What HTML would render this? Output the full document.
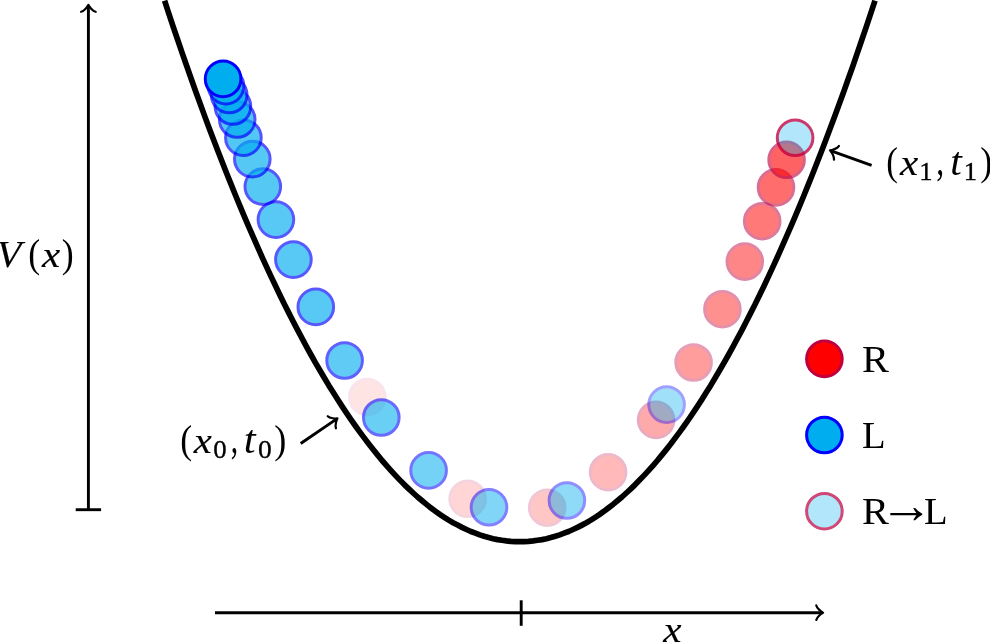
<!DOCTYPE html>
<html><head><meta charset="utf-8"><title>V(x)</title>
<style>
html,body{margin:0;padding:0;background:#fff;}
body{width:990px;height:642px;overflow:hidden;}
svg{display:block;}
text{font-family:"Liberation Serif",serif;fill:#000;}
.i{font-style:italic;}
</style></head><body>
<svg width="990" height="642" viewBox="0 0 990 642">
<rect width="990" height="642" fill="#fff"/>
<line x1="88.4" y1="509.7" x2="88.40" y2="5.30" stroke="#000" stroke-width="2.9"/><path transform="translate(88.4,3.8) rotate(-90.00)" d="M -7.95,7.28 C -7.49,4.55 -2.49,0.455 -1.12,0 C -2.49,-0.455 -7.49,-4.55 -7.95,-7.28" fill="none" stroke="#000" stroke-width="2.24" stroke-linecap="round" stroke-linejoin="round"/>
<line x1="75.7" y1="509.7" x2="101.10000000000001" y2="509.7" stroke="#000" stroke-width="2.9"/>
<line x1="215" y1="612.7" x2="822.70" y2="612.70" stroke="#000" stroke-width="2.9"/><path transform="translate(824.2,612.7) rotate(0.00)" d="M -7.95,7.28 C -7.49,4.55 -2.49,0.455 -1.12,0 C -2.49,-0.455 -7.49,-4.55 -7.95,-7.28" fill="none" stroke="#000" stroke-width="2.24" stroke-linecap="round" stroke-linejoin="round"/>
<line x1="521.2" y1="600.3" x2="521.2" y2="625.8" stroke="#000" stroke-width="2.9"/>
<g>
<g opacity="0.1"><circle cx="367.3" cy="397.0" r="17.8" fill="#ff0000" stroke="#bf0040" stroke-width="3.0"/></g>
<g opacity="0.16"><circle cx="467.6" cy="498.8" r="17.8" fill="#ff0000" stroke="#bf0040" stroke-width="3.0"/></g>
<g opacity="0.22"><circle cx="547.2" cy="507.7" r="17.8" fill="#ff0000" stroke="#bf0040" stroke-width="3.0"/></g>
<g opacity="0.27"><circle cx="608.1" cy="472.2" r="17.8" fill="#ff0000" stroke="#bf0040" stroke-width="3.0"/></g>
<g opacity="0.33"><circle cx="656.1" cy="419.9" r="17.8" fill="#ff0000" stroke="#bf0040" stroke-width="3.0"/></g>
<g opacity="0.38"><circle cx="693.6" cy="362.5" r="17.8" fill="#ff0000" stroke="#bf0040" stroke-width="3.0"/></g>
<g opacity="0.43"><circle cx="722.4" cy="309.2" r="17.8" fill="#ff0000" stroke="#bf0040" stroke-width="3.0"/></g>
<g opacity="0.47"><circle cx="744.8" cy="261.6" r="17.8" fill="#ff0000" stroke="#bf0040" stroke-width="3.0"/></g>
<g opacity="0.52"><circle cx="762.2" cy="221.2" r="17.8" fill="#ff0000" stroke="#bf0040" stroke-width="3.0"/></g>
<g opacity="0.57"><circle cx="776.0" cy="187.4" r="17.8" fill="#ff0000" stroke="#bf0040" stroke-width="3.0"/></g>
<g opacity="0.61"><circle cx="786.6" cy="159.8" r="17.8" fill="#ff0000" stroke="#bf0040" stroke-width="3.0"/></g>
<circle cx="795.1" cy="137.8" r="16.60" fill="#00adef" fill-opacity="0.3"/><circle cx="795.1" cy="137.8" r="17.8" fill="none" stroke="#bf0040" stroke-opacity="0.78" stroke-width="3.0"/>
<g opacity="0.37"><circle cx="666.6" cy="404.6" r="17.8" fill="#00adef" stroke="#0000ff" stroke-width="3.0"/></g>
<g opacity="0.44"><circle cx="566.9" cy="500.5" r="17.8" fill="#00adef" stroke="#0000ff" stroke-width="3.0"/></g>
<g opacity="0.49"><circle cx="489.0" cy="507.3" r="17.8" fill="#00adef" stroke="#0000ff" stroke-width="3.0"/></g>
<g opacity="0.54"><circle cx="428.6" cy="470.4" r="17.8" fill="#00adef" stroke="#0000ff" stroke-width="3.0"/></g>
<g opacity="0.58"><circle cx="381.3" cy="417.5" r="17.8" fill="#00adef" stroke="#0000ff" stroke-width="3.0"/></g>
<g opacity="0.62"><circle cx="344.6" cy="360.5" r="17.8" fill="#00adef" stroke="#0000ff" stroke-width="3.0"/></g>
<g opacity="0.65"><circle cx="315.8" cy="306.9" r="17.8" fill="#00adef" stroke="#0000ff" stroke-width="3.0"/></g>
<g opacity="0.65"><circle cx="293.4" cy="259.6" r="17.8" fill="#00adef" stroke="#0000ff" stroke-width="3.0"/></g>
<g opacity="0.65"><circle cx="275.9" cy="219.6" r="17.8" fill="#00adef" stroke="#0000ff" stroke-width="3.0"/></g>
<g opacity="0.66"><circle cx="262.8" cy="186.6" r="17.8" fill="#00adef" stroke="#0000ff" stroke-width="3.0"/></g>
<g opacity="0.66"><circle cx="252.3" cy="159.1" r="17.8" fill="#00adef" stroke="#0000ff" stroke-width="3.0"/></g>
<g opacity="0.67"><circle cx="243.4" cy="137.7" r="17.8" fill="#00adef" stroke="#0000ff" stroke-width="3.0"/></g>
<g opacity="0.68"><circle cx="237.2" cy="119.5" r="17.8" fill="#00adef" stroke="#0000ff" stroke-width="3.0"/></g>
<g opacity="0.69"><circle cx="232.9" cy="106.5" r="17.8" fill="#00adef" stroke="#0000ff" stroke-width="3.0"/></g>
<g opacity="0.7"><circle cx="229.2" cy="95.0" r="17.8" fill="#00adef" stroke="#0000ff" stroke-width="3.0"/></g>
<g opacity="0.71"><circle cx="226.0" cy="86.1" r="17.8" fill="#00adef" stroke="#0000ff" stroke-width="3.0"/></g>
<g opacity="1.0"><circle cx="223.1" cy="78.9" r="17.8" fill="#00adef" stroke="#0000ff" stroke-width="3.0"/></g>
</g>
<path d="M164.6,0.7 L169.0,14.1 L173.4,27.4 L177.9,40.5 L182.3,53.4 L186.8,66.2 L191.2,78.8 L195.6,91.2 L200.1,103.5 L204.5,115.6 L208.9,127.5 L213.4,139.2 L217.8,150.8 L222.3,162.2 L226.7,173.5 L231.2,184.6 L235.6,195.5 L240.0,206.2 L244.5,216.8 L248.9,227.2 L253.4,237.4 L257.8,247.4 L262.2,257.3 L266.7,267.1 L271.1,276.6 L275.6,286.0 L280.0,295.2 L284.4,304.3 L288.9,313.1 L293.3,321.8 L297.8,330.4 L302.2,338.7 L306.6,346.9 L311.1,355.0 L315.5,362.8 L320.0,370.5 L324.4,378.0 L328.8,385.4 L333.3,392.6 L337.7,399.6 L342.1,406.4 L346.6,413.1 L351.0,419.6 L355.5,426.0 L359.9,432.1 L364.4,438.1 L368.8,444.0 L373.2,449.6 L377.7,455.1 L382.1,460.5 L386.6,465.6 L391.0,470.6 L395.4,475.4 L399.9,480.1 L404.3,484.6 L408.8,488.9 L413.2,493.0 L417.6,497.0 L422.1,500.8 L426.5,504.4 L430.9,507.9 L435.4,511.2 L439.8,514.3 L444.3,517.3 L448.7,520.1 L453.1,522.7 L457.6,525.1 L462.0,527.4 L466.5,529.5 L470.9,531.5 L475.4,533.2 L479.8,534.9 L484.2,536.3 L488.7,537.6 L493.1,538.7 L497.6,539.6 L502.0,540.3 L506.4,540.9 L510.9,541.4 L515.3,541.6 L519.8,541.7 L524.2,541.6 L528.6,541.4 L533.1,540.9 L537.5,540.3 L542.0,539.6 L546.4,538.7 L550.8,537.6 L555.3,536.3 L559.7,534.9 L564.1,533.2 L568.6,531.5 L573.0,529.5 L577.5,527.4 L581.9,525.1 L586.4,522.7 L590.8,520.1 L595.2,517.3 L599.7,514.3 L604.1,511.2 L608.5,507.9 L613.0,504.4 L617.4,500.8 L621.9,497.0 L626.3,493.0 L630.8,488.9 L635.2,484.6 L639.6,480.1 L644.1,475.4 L648.5,470.6 L653.0,465.6 L657.4,460.5 L661.8,455.1 L666.3,449.6 L670.7,444.0 L675.1,438.1 L679.6,432.1 L684.0,426.0 L688.5,419.6 L692.9,413.1 L697.4,406.4 L701.8,399.6 L706.2,392.6 L710.7,385.4 L715.1,378.0 L719.5,370.5 L724.0,362.8 L728.4,355.0 L732.9,346.9 L737.3,338.7 L741.8,330.4 L746.2,321.8 L750.6,313.1 L755.1,304.3 L759.5,295.2 L764.0,286.0 L768.4,276.6 L772.8,267.1 L777.3,257.3 L781.7,247.4 L786.1,237.4 L790.6,227.2 L795.0,216.8 L799.5,206.2 L803.9,195.5 L808.3,184.6 L812.8,173.5 L817.2,162.2 L821.7,150.8 L826.1,139.2 L830.5,127.5 L835.0,115.6 L839.4,103.5 L843.9,91.2 L848.3,78.8 L852.8,66.2 L857.2,53.4 L861.6,40.5 L866.1,27.4 L870.5,14.1 L875.0,0.7" fill="none" stroke="#000" stroke-width="5.7" stroke-linejoin="round"/>
<line x1="300.7" y1="443.5" x2="337.16" y2="418.64" stroke="#000" stroke-width="2.9"/><path transform="translate(338.4,417.8) rotate(-34.28)" d="M -7.95,7.28 C -7.49,4.55 -2.49,0.455 -1.12,0 C -2.49,-0.455 -7.49,-4.55 -7.95,-7.28" fill="none" stroke="#000" stroke-width="2.24" stroke-linecap="round" stroke-linejoin="round"/>
<line x1="871.6" y1="165.4" x2="830.41" y2="150.61" stroke="#000" stroke-width="2.9"/><path transform="translate(829.0,150.1) rotate(-160.24)" d="M -7.95,7.28 C -7.49,4.55 -2.49,0.455 -1.12,0 C -2.49,-0.455 -7.49,-4.55 -7.95,-7.28" fill="none" stroke="#000" stroke-width="2.24" stroke-linecap="round" stroke-linejoin="round"/>
<g opacity="1"><circle cx="824.4" cy="358.9" r="17.8" fill="#ff0000" stroke="#bf0040" stroke-width="3.0"/></g>
<g opacity="1"><circle cx="824.4" cy="435.0" r="17.8" fill="#00adef" stroke="#0000ff" stroke-width="3.0"/></g>
<circle cx="824.4" cy="511.2" r="16.60" fill="#00adef" fill-opacity="0.3"/><circle cx="824.4" cy="511.2" r="17.8" fill="none" stroke="#bf0040" stroke-opacity="0.72" stroke-width="3.0"/>
<g><text transform="translate(861.94,372.01) scale(1.1212,1.0729)" font-size="36" stroke="#000" stroke-width="0.000">R</text></g>
<g><text transform="translate(861.98,447.80) scale(1.0755,1.0601)" font-size="36" stroke="#000" stroke-width="0.000">L</text></g>
<g><text transform="translate(861.94,524.21) scale(1.1212,1.0729)" font-size="36" stroke="#000" stroke-width="0.000">R</text><text transform="translate(879.16,523.17) scale(1.5020,1.4662)" font-size="36" stroke="#000" stroke-width="0.000">→</text><text transform="translate(923.88,523.80) scale(1.0755,1.0516)" font-size="36" stroke="#000" stroke-width="0.000">L</text></g>
<g><text transform="translate(-3.55,266.74) scale(1.1303,1.0534)" font-size="36" class="i" stroke="#000" stroke-width="0.144">V</text><text transform="translate(28.22,267.14) scale(0.9952,1.1155)" font-size="36" stroke="#000" stroke-width="0.000">(</text><text transform="translate(41.89,267.11) scale(1.1408,1.0031)" font-size="36" class="i" stroke="#000" stroke-width="0.144">x</text><text transform="translate(61.84,267.13) scale(0.9961,1.1149)" font-size="36" stroke="#000" stroke-width="0.000">)</text></g>
<g><text transform="translate(180.22,453.29) scale(0.9952,1.1093)" font-size="36" stroke="#000" stroke-width="0.000">(</text><text transform="translate(193.78,453.11) scale(1.1286,1.0211)" font-size="36" class="i" stroke="#000" stroke-width="0.144">x</text><text transform="translate(213.23,458.30) scale(0.7461,0.6922)" font-size="36" stroke="#000" stroke-width="0.432">0</text><text transform="translate(230.77,453.05) scale(0.8216,1.2291)" font-size="36" stroke="#000" stroke-width="0.000">,</text><text transform="translate(243.70,452.80) scale(1.1872,1.1209)" font-size="36" class="i" stroke="#000" stroke-width="0.000">t</text><text transform="translate(258.01,458.30) scale(0.7652,0.6922)" font-size="36" stroke="#000" stroke-width="0.432">0</text><text transform="translate(274.13,453.28) scale(1.0069,1.1088)" font-size="36" stroke="#000" stroke-width="0.000">)</text></g>
<g><text transform="translate(886.26,175.19) scale(0.9736,1.1093)" font-size="36" stroke="#000" stroke-width="0.000">(</text><text transform="translate(899.89,175.11) scale(1.1408,1.0211)" font-size="36" class="i" stroke="#000" stroke-width="0.144">x</text><text transform="translate(919.22,179.94) scale(0.7403,0.7007)" font-size="36" stroke="#000" stroke-width="0.432">1</text><text transform="translate(936.30,175.05) scale(0.8776,1.2291)" font-size="36" stroke="#000" stroke-width="0.000">,</text><text transform="translate(950.15,174.80) scale(1.1542,1.1161)" font-size="36" class="i" stroke="#000" stroke-width="0.000">t</text><text transform="translate(963.72,179.94) scale(0.7403,0.7007)" font-size="36" stroke="#000" stroke-width="0.432">1</text><text transform="translate(980.14,175.18) scale(0.9961,1.1088)" font-size="36" stroke="#000" stroke-width="0.000">)</text></g>
<g><text transform="translate(663.19,642.11) scale(1.1408,1.0211)" font-size="36" class="i" stroke="#000" stroke-width="0.144">x</text></g>
</svg>
</body></html>
